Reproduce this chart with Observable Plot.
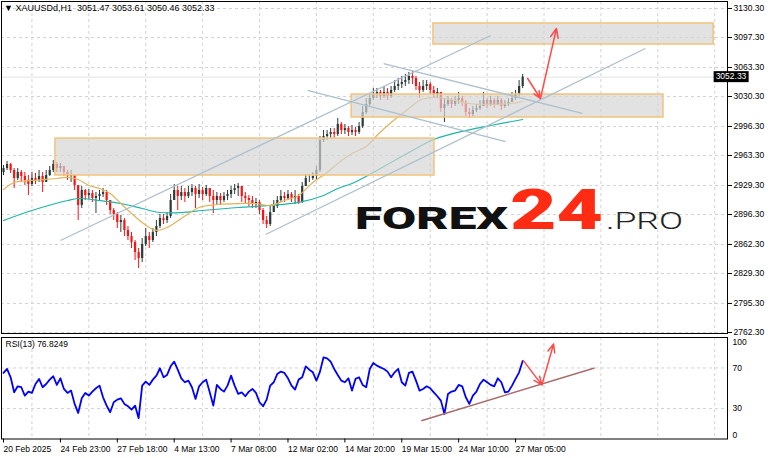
<!DOCTYPE html>
<html><head><meta charset="utf-8">
<script src="https://cdn.jsdelivr.net/npm/d3@7"></script>
<script src="https://cdn.jsdelivr.net/npm/@observablehq/plot@0.6"></script>
<style>
body{margin:0;background:#fff;}
#wrap{position:relative;width:768px;height:458px;overflow:hidden;font-family:"Liberation Sans",Arial,sans-serif;}
#main,#rsi{position:absolute;left:0;}
#main{top:0;z-index:2}
#rsi{top:335px;z-index:1}
#main svg{overflow:visible}
#hdr{position:absolute;left:4px;top:3px;font-size:9px;color:#000;white-space:pre;z-index:3}
#logo{position:absolute;left:0;top:0;pointer-events:none;z-index:3}
</style></head><body>
<div id="wrap"><div id="main"></div><div id="rsi"></div>
<svg id="logo" width="768" height="335"></svg>
<div id="hdr">▼ XAUUSDd,H1  3051.47 3053.61 3050.46 3052.33</div></div>
<script>
// ---- data ----
const firstOpen = 2944.0;
const closes = [2948.6,2953.1,2946.3,2937.2,2944.0,2939.5,2935.0,2930.4,2937.2,2935.0,
2939.5,2932.7,2940.6,2946.3,2953.1,2948.6,2950.9,2944.0,2939.5,2940.6,
2929.3,2906.6,2923.6,2917.9,2920.2,2914.5,2916.8,2919.0,2921.3,2912.2,
2900.9,2896.3,2887.2,2889.5,2878.2,2871.3,2864.5,2853.2,2846.3,2862.3,
2871.3,2866.8,2875.9,2882.7,2891.8,2889.5,2894.1,2912.2,2923.6,2916.8,
2921.3,2916.8,2921.3,2925.9,2919.0,2923.6,2919.0,2925.9,2916.8,2912.2,
2916.8,2912.2,2916.8,2919.0,2923.6,2925.9,2928.1,2916.8,2914.5,2912.2,
2907.7,2910.0,2900.9,2889.5,2885.0,2898.6,2905.4,2912.2,2916.8,2914.5,
2919.0,2914.5,2916.8,2910.0,2928.1,2937.2,2937.2,2939.5,2946.3,2980.4,
2984.9,2987.2,2989.5,2987.2,2998.6,2991.7,2994.0,2989.5,2991.7,2989.5,
2996.3,3012.2,3021.3,3028.1,3032.6,3034.9,3030.4,3034.9,3030.4,3037.2,
3041.7,3044.0,3046.3,3048.5,3053.1,3050.8,3041.7,3037.2,3041.7,3044.0,
3037.2,3032.6,3034.9,3016.7,3021.3,3025.8,3021.3,3025.8,3028.1,3023.5,
3012.2,3009.9,3014.5,3016.7,3019.0,3025.8,3021.3,3025.8,3021.3,3025.8,
3019.0,3021.3,3023.5,3028.1,3032.6,3041.7,3052.33];
const highs = [2952.0,2956.5,2954.3,2948.6,2948.6,2946.3,2944.0,2940.6,2944.0,2942.9,
2946.3,2944.0,2946.3,2950.9,2957.7,2955.4,2954.3,2950.9,2946.3,2946.3,
2940.6,2929.3,2928.1,2924.7,2924.7,2923.6,2921.3,2923.6,2925.9,2923.6,
2912.2,2903.1,2898.6,2895.2,2891.8,2882.7,2875.9,2866.8,2857.7,2869.1,
2880.4,2875.9,2880.4,2889.5,2896.3,2896.3,2898.6,2919.0,2930.4,2928.1,
2928.1,2925.9,2928.1,2930.4,2928.1,2930.4,2927.0,2929.3,2925.9,2923.6,
2921.3,2920.2,2921.3,2923.6,2928.1,2930.4,2931.5,2928.1,2921.3,2917.9,
2916.8,2914.5,2912.2,2903.1,2894.1,2905.4,2912.2,2916.8,2923.6,2921.3,
2923.6,2921.3,2923.6,2919.0,2932.7,2941.8,2941.8,2944.0,2950.9,2984.9,
2991.7,2991.7,2994.0,2994.0,3005.4,3000.8,2998.6,2996.3,2997.4,2995.1,
3000.8,3019.0,3028.1,3032.6,3039.4,3039.4,3037.2,3041.7,3039.4,3041.7,
3048.5,3050.8,3053.1,3055.3,3057.6,3058.8,3053.1,3046.3,3048.5,3048.5,
3046.3,3041.7,3039.4,3034.9,3028.1,3030.4,3028.1,3030.4,3034.9,3030.4,
3025.8,3016.7,3019.0,3021.3,3025.8,3034.9,3028.1,3030.4,3028.1,3030.4,
3028.1,3025.8,3028.1,3034.9,3037.2,3048.5,3055.3];
const lows = [2940.6,2946.3,2942.9,2925.9,2935.0,2932.7,2929.3,2917.9,2928.1,2930.4,
2932.7,2921.3,2932.7,2939.5,2944.0,2944.0,2944.0,2939.5,2935.0,2932.7,
2923.6,2889.5,2903.1,2912.2,2913.4,2910.0,2897.5,2912.2,2915.6,2906.6,
2896.3,2889.5,2880.4,2875.9,2871.3,2866.8,2857.7,2844.1,2835.0,2841.8,
2860.0,2857.7,2864.5,2871.3,2880.4,2885.0,2886.1,2891.8,2912.2,2900.9,
2912.2,2910.0,2914.5,2916.8,2903.1,2914.5,2912.2,2916.8,2910.0,2897.5,
2907.7,2906.6,2910.0,2912.2,2914.5,2919.0,2916.8,2910.0,2907.7,2905.4,
2903.1,2903.1,2896.3,2885.0,2880.4,2882.7,2898.6,2903.1,2910.0,2910.0,
2912.2,2910.0,2907.7,2907.7,2908.8,2928.1,2932.7,2935.0,2935.0,2944.0,
2978.1,2980.4,2982.7,2982.7,2984.9,2987.2,2987.2,2984.9,2986.1,2984.9,
2987.2,2994.0,3009.9,3019.0,3025.8,3028.1,3025.8,3028.1,3025.8,3028.1,
3034.9,3037.2,3039.4,3041.7,3044.0,3044.0,3037.2,3028.1,3034.9,3037.2,
3032.6,3028.1,3028.1,3012.2,3000.8,3019.0,3016.7,3019.0,3021.3,3019.0,
3007.6,3005.4,3007.6,3012.2,3014.5,3019.0,3016.7,3019.0,3016.7,3021.3,
3014.5,3016.7,3019.0,3023.5,3025.8,3030.4,3039.4];
const rsiValues = [65.1,69.0,60.8,46.0,51.9,51.0,42.8,46.7,45.4,54.2,
59.2,51.0,54.2,58.5,61.8,53.3,59.8,49.3,45.4,47.7,
34.6,25.7,40.1,45.4,42.8,46.7,50.0,52.6,41.1,32.9,
26.4,36.2,38.8,40.1,34.6,32.3,29.0,32.9,20.5,52.6,
56.5,53.3,58.5,62.4,69.7,60.8,63.1,71.6,76.2,68.3,
59.8,55.9,57.5,51.0,39.5,51.9,55.9,58.5,46.0,32.9,
53.3,49.3,46.7,52.6,62.4,52.6,44.4,46.0,42.1,46.7,
49.3,45.4,36.2,32.3,38.8,52.6,55.9,64.1,66.4,65.1,
59.8,52.6,48.7,58.5,60.8,71.6,68.3,65.7,57.5,66.4,
80.5,79.5,76.2,69.0,63.1,57.5,55.9,59.8,47.7,59.2,
60.8,53.3,51.0,69.0,74.9,72.3,70.6,69.0,66.4,60.8,
65.7,69.0,55.9,52.6,65.1,66.4,57.5,47.7,49.3,51.9,
50.0,46.0,42.1,37.8,24.7,44.4,46.7,47.7,53.3,51.9,
41.1,34.6,42.8,46.7,54.2,58.5,55.9,53.3,51.9,59.8,
55.9,46.0,46.7,52.6,59.2,65.7,76.8249];
// moving averages (bar index, price)
const maFastBars = [0,3,8,15,18,21,24,27,30,33,36,39,41,43,46,50,55,60,67,71,75,79,83,87,91,94,98,102,105,109,114,117,121,126,131,137,143,146];
const maFastVals = [2924.7,2932.7,2935.0,2937.2,2938.4,2936.1,2929.3,2925.9,2920.2,2908.8,2897.5,2887.2,2881.6,2878.2,2881.6,2891.8,2904.3,2907.7,2908.8,2908.8,2906.6,2912.2,2917.9,2932.7,2944.0,2954.3,2965.6,2973.6,2986.1,3000.8,3016.7,3025.8,3029.2,3026.9,3022.4,3021.3,3022.4,3024.7];
const maSlowBars = [0,8,18,21,27,33,39,44,50,56,66,75,83,90,94,98,106,114,121,130,137,146];
const maSlowVals = [2889.5,2900.9,2912.2,2914.5,2912.2,2908.8,2903.1,2898.6,2898.6,2900.9,2904.3,2906.6,2910.0,2917.9,2925.9,2931.5,2948.6,2966.7,2981.5,2991.7,2997.4,3004.2];
// axis labels
const priceTicks = [2762.30,2795.30,2829.30,2862.30,2896.30,2929.30,2963.30,2996.30,3030.30,3063.30,3097.30,3130.30];
const timeLabels = ["20 Feb 2025","24 Feb 23:00","27 Feb 18:00","4 Mar 13:00","7 Mar 08:00","12 Mar 02:00","14 Mar 20:00","19 Mar 15:00","24 Mar 10:00","27 Mar 05:00"];
const labelBars = [0,16,32,48,64,80,96,112,128,144];
const gridBars = [8,24,40,56,72,88,104,120,136,152,168,184,200];
const rsiLevels = [70,30];
// annotations (bar index, price)
const zones = [
  {b1:14.6,b2:121.2,p1:2940.6,p2:2982.6},
  {b1:97.9,b2:185.6,p1:3006.5,p2:3032.6},
  {b1:120.9,b2:199.7,p1:3089.4,p2:3113.3}];
const channels = [
  {b1:16.0,p1:2866.8,b2:137.0,p2:3099.6},
  {b1:73.7,p1:2873.6,b2:180.5,p2:3084.9},
  {b1:106.9,p1:3067.8,b2:162.8,p2:3011.1},
  {b1:85.5,p1:3037.2,b2:141.2,p2:2979.2}];
const priceArrows = [
  {b1:147.4,p1:3050.8,b2:151.0,p2:3028.1},
  {b1:151.0,p1:3028.1,b2:155.5,p2:3107.7}];
const rsiTrend = [{b1:117.5,v1:18,b2:166.2,v2:70}];
const rsiArrows = [
  {b1:146.2,v1:77.2,b2:151.4,v2:53.3},
  {b1:151.4,v1:53.3,b2:154.7,v2:93.6}];

// ---- build ----
const bars = closes.map((c,i)=>{
  const o = i ? closes[i-1] : firstOpen;
  return {i, open:o, close:c, high:Math.max(highs[i],o,c), low:Math.min(lows[i],o,c)};
});
const lastClose = closes[closes.length-1];
const bull = "#2e3b3b", bear = "#ff1010";
const colorOf = d => d.close >= d.open ? bull : bear;
const xDomain = [-0.5625, 203.6];
const font = "Liberation Sans, Arial, sans-serif";
const gridStyle = {stroke:"#d2d2d2", strokeOpacity:1, strokeDasharray:"3,3"};

const main = Plot.plot({
  width:768, height:335,
  marginLeft:1, marginRight:41, marginTop:1, marginBottom:2,
  x:{domain:xDomain, axis:null},
  y:{domain:[2761.17,3138.25], axis:null},
  style:{fontFamily:font, fontSize:"8.5px", color:"#000", background:"transparent", overflow:"visible"},
  marks:[
    Plot.gridY(priceTicks, gridStyle),
    Plot.gridX(gridBars, gridStyle),
    Plot.ruleY([lastClose], {stroke:"#e4e4e4", strokeWidth:1}),
    Plot.ruleX(bars, {x:"i", y1:"low", y2:"high", stroke:colorOf, strokeWidth:1}),
    Plot.ruleX(bars, {x:"i", y1:"open", y2:"close", stroke:colorOf, strokeWidth:2.2}),
    Plot.line(maSlowBars.map((b,k)=>({b, v:maSlowVals[k]})), {x:"b", y:"v", stroke:"#1fb5a6", strokeWidth:1.2, curve:"catmull-rom"}),
    Plot.line(maFastBars.map((b,k)=>({b, v:maFastVals[k]})), {x:"b", y:"v", stroke:"#e2b257", strokeWidth:1.2, curve:"catmull-rom"}),
    Plot.rect(zones, {x1:"b1", x2:"b2", y1:"p1", y2:"p2", fill:"#d4d4d4", fillOpacity:0.68, stroke:"#f2c47a", strokeWidth:1.5}),
    Plot.link(channels, {x1:"b1", y1:"p1", x2:"b2", y2:"p2", stroke:"#adc0ce", strokeWidth:1.3}),
    Plot.arrow(priceArrows, {x1:"b1", y1:"p1", x2:"b2", y2:"p2", stroke:"#ff4a4a", strokeWidth:1.5, headLength:10, headAngle:45}),
    Plot.axisY(priceTicks, {anchor:"right", tickSize:4, tickPadding:2, label:null, tickFormat:d=>d.toFixed(2), fill:"#000"}),
    Plot.frame({stroke:"#000"})
  ]
});
document.getElementById("main").appendChild(main);

// current price tag using the plot's own y scale
(function(){
  const ns = "http://www.w3.org/2000/svg";
  const yS = main.scale("y"), xS = main.scale("x");
  const y = yS.apply(lastClose);
  const x0 = xS.range[1];
  const g = document.createElementNS(ns,"g");
  const t = document.createElementNS(ns,"text");
  t.setAttribute("x", x0+4); t.setAttribute("y", y); t.setAttribute("dy","0.32em");
  t.setAttribute("fill","#fff"); t.setAttribute("font-family",font); t.setAttribute("font-size","8.5px");
  t.textContent = lastClose.toFixed(2);
  const r = document.createElementNS(ns,"rect");
  g.appendChild(r); g.appendChild(t); main.appendChild(g);
  const bb = t.getBBox();
  r.setAttribute("x", bb.x-2); r.setAttribute("y", y-5.5);
  r.setAttribute("width", bb.width+4); r.setAttribute("height", 11);
  r.setAttribute("fill","#000");
})();

const rsiPlot = Plot.plot({
  width:768, height:123,
  marginLeft:1, marginRight:41, marginTop:2, marginBottom:19.5,
  x:{domain:xDomain, axis:null},
  y:{domain:[0,100], axis:null},
  style:{fontFamily:font, fontSize:"8.5px", color:"#000", background:"transparent"},
  marks:[
    Plot.gridY(rsiLevels, gridStyle),
    Plot.gridX(gridBars, gridStyle),
    Plot.line(rsiValues, {x:(d,i)=>i, y:d=>d, stroke:"#0000ff", strokeWidth:1.8}),
    Plot.link(rsiTrend, {x1:"b1", y1:"v1", x2:"b2", y2:"v2", stroke:"#a76b6b", strokeWidth:1.5}),
    Plot.arrow(rsiArrows, {x1:"b1", y1:"v1", x2:"b2", y2:"v2", stroke:"#ff4a4a", strokeWidth:1.5, headLength:9, headAngle:45}),
    Plot.text([100], {y:d=>d, text:d=>String(d), frameAnchor:"right", dx:5, dy:1, textAnchor:"start", lineAnchor:"top", fill:"#000"}),
    Plot.text(rsiLevels, {y:d=>d, text:d=>String(d), frameAnchor:"right", dx:5, textAnchor:"start", lineAnchor:"middle", fill:"#000"}),
    Plot.text([0], {y:d=>d, text:d=>String(d), frameAnchor:"right", dx:5, dy:-1, textAnchor:"start", lineAnchor:"bottom", fill:"#000"}),
    Plot.text(["RSI(13) 76.8249"], {text:d=>d, frameAnchor:"top-left", dx:4, dy:3, textAnchor:"start", lineAnchor:"top", fill:"#000"}),
    Plot.axisX(labelBars, {anchor:"bottom", tickSize:4, tickPadding:3, textAnchor:"start", label:null, tickFormat:d=>timeLabels[labelBars.indexOf(d)], fill:"#000"}),
    Plot.frame({stroke:"#000"})
  ]
});
document.getElementById("rsi").appendChild(rsiPlot);

// watermark logo as real text
(function(){
  const ns = "http://www.w3.org/2000/svg";
  const svg = document.getElementById("logo");
  const parts = [
    {t:"FOREX", x:355, y:229, size:32, weight:900, fill:"#111", len:153, fam:"Roboto, Lato, sans-serif"},
    {t:"24", x:510, y:229, size:55, weight:900, fill:"#ff2b12", len:93, fam:"Roboto, Lato, sans-serif"},
    {t:".PRO", x:606, y:229, size:23, weight:300, fill:"#222", len:77, fam:"Roboto, Lato, sans-serif"}];
  for (const p of parts){
    const e = document.createElementNS(ns,"text");
    e.setAttribute("x",p.x); e.setAttribute("y",p.y);
    e.setAttribute("font-size",p.size); e.setAttribute("font-weight",p.weight);
    e.setAttribute("font-family",p.fam); e.setAttribute("fill",p.fill);
    e.setAttribute("textLength",p.len); e.setAttribute("lengthAdjust","spacingAndGlyphs");
    e.textContent = p.t; svg.appendChild(e);
  }
})();
</script>
</body></html>
